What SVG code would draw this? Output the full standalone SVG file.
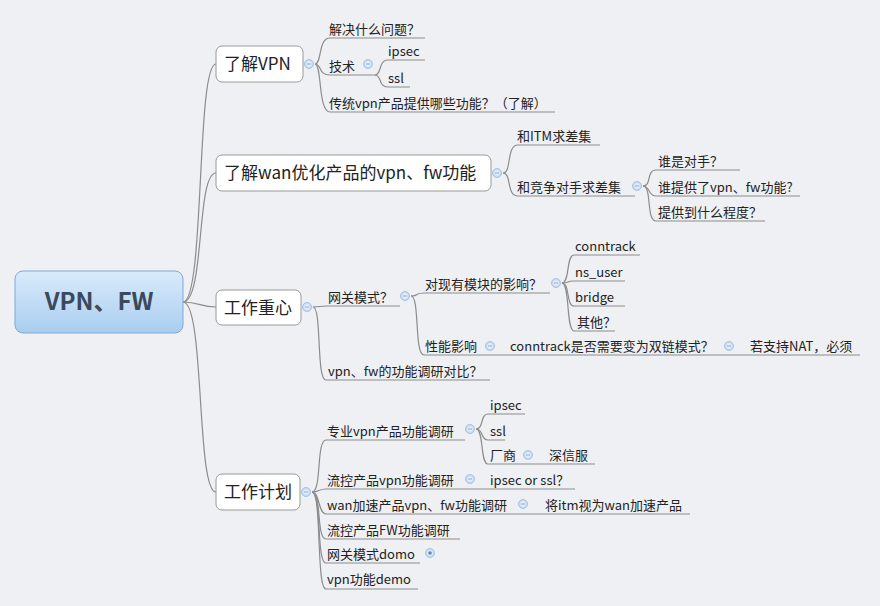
<svg xmlns="http://www.w3.org/2000/svg" width="880" height="606" viewBox="0 0 880 606">
<defs>
<linearGradient id="rg" x1="0" y1="0" x2="0" y2="1"><stop offset="0" stop-color="#d9ebfb"/><stop offset="1" stop-color="#a9cdf0"/></linearGradient>
<radialGradient id="ig"><stop offset="0" stop-color="#ffffff"/><stop offset="1" stop-color="#b9d3ee"/></radialGradient>
</defs>
<style>
text{font-family:"Noto Sans CJK SC","Liberation Sans",sans-serif;fill:#222}
.t{font-size:13px}
.m{font-size:17px}
.box{fill:#fff;stroke:#9a9a9a;stroke-width:1}
.c path{fill:none;stroke:#8c8c8c;stroke-width:1.2}
.ic circle{fill:url(#ig);stroke:#a8c4e2;stroke-width:1}
.ic line{stroke:#7fa6d4;stroke-width:1}
</style>
<rect width="880" height="606" fill="#eef0f4"/>
<g class="c">
<path d="M183,302 C205,302 196,64 216,64"/>
<path d="M183,302 C205,302 196,173 216,173"/>
<path d="M183,302 C200,302 200,307 216,307"/>
<path d="M183,302 C205,302 196,492 216,492"/>
<!-- VPN -->
<path d="M315,64 C322,64 318,38 330,38 H425"/>
<path d="M315,64 C322,64 318,75 330,75 H375"/>
<path d="M315,64 C322,64 318,112 330,112 H555"/>
<path d="M375,75 C382,75 378,60 388,60 H425"/>
<path d="M375,75 C382,75 378,87 388,87 H410"/>
<!-- wan -->
<path d="M503,173 C512,173 506,145 518,145 H600"/>
<path d="M503,173 C512,173 506,196 518,196 H635"/>
<path d="M643,186 C652,186 646,170 656,170 H740"/>
<path d="M643,186 C650,186 648,196 656,196 H800"/>
<path d="M643,186 C652,186 646,221 656,221 H765"/>
<!-- 工作重心 -->
<path d="M313,307 C322,307 318,306 328,306 H400"/>
<path d="M313,307 C322,307 316,380 326,380 H490"/>
<path d="M411,296 C420,296 414,293 424,293 H550"/>
<path d="M411,296 C420,296 414,355 424,355 H860"/>
<path d="M562,283 C570,283 566,255 574,255 H640"/>
<path d="M562,283 C570,283 566,281 574,281 H625"/>
<path d="M562,283 C570,283 566,306 574,306 H625"/>
<path d="M562,283 C570,283 566,331 574,331 H615"/>
<!-- 工作计划 -->
<path d="M312,492 C322,492 316,440 326,440 H465"/>
<path d="M312,492 C320,492 318,489 326,489 H575"/>
<path d="M312,492 C320,492 318,514 326,514 H690"/>
<path d="M312,492 C322,492 316,539 326,539 H460"/>
<path d="M312,492 C322,492 316,563 326,563 H420"/>
<path d="M312,492 C322,492 316,589 326,589 H418"/>
<path d="M476,429 C484,429 480,414 488,414 H525"/>
<path d="M476,429 C484,429 480,440 488,440 H505"/>
<path d="M476,429 C484,429 480,464 488,464 H595"/>
</g>
<g id="root"><rect x="15" y="271" width="168" height="62" rx="8" fill="url(#rg)" stroke="#7fa9d6"/><text x="99" y="310" text-anchor="middle" style="font-size:24px;font-weight:bold;fill:#3a4a5c">VPN、FW</text></g>
<g id="n1"><rect class="box" x="216" y="46" width="87" height="36" rx="6"/><text class="m" x="224" y="70">了解VPN</text></g>
<g id="n2"><rect class="box" x="216" y="155" width="275" height="36" rx="6"/><text class="m" x="224" y="179">了解wan优化产品的vpn、fw功能</text></g>
<g id="n3"><rect class="box" x="216" y="290" width="85" height="35" rx="6"/><text class="m" x="224" y="314">工作重心</text></g>
<g id="n4"><rect class="box" x="216" y="474" width="84" height="36" rx="6"/><text class="m" x="224" y="498">工作计划</text></g>
<g class="t">
<text x="329" y="34">解决什么问题？</text>
<text x="329" y="71">技术</text>
<text x="388" y="56">ipsec</text>
<text x="388" y="83">ssl</text>
<text x="329" y="108">传统vpn产品提供哪些功能？（了解）</text>
<text x="517" y="141">和ITM求差集</text>
<text x="517" y="192">和竞争对手求差集</text>
<text x="658" y="166">谁是对手？</text>
<text x="658" y="192">谁提供了vpn、fw功能?</text>
<text x="658" y="217">提供到什么程度？</text>
<text x="328" y="302">网关模式？</text>
<text x="425" y="289">对现有模块的影响？</text>
<text x="575" y="251">conntrack</text>
<text x="575" y="277">ns_user</text>
<text x="575" y="302">bridge</text>
<text x="577" y="327">其他？</text>
<text x="425" y="351">性能影响</text>
<text x="510" y="351">conntrack是否需要变为双链模式？</text>
<text x="750" y="351">若支持NAT，必须</text>
<text x="328" y="376">vpn、fw的功能调研对比？</text>
<text x="327" y="436">专业vpn产品功能调研</text>
<text x="490" y="410">ipsec</text>
<text x="490" y="436">ssl</text>
<text x="490" y="460">厂商</text>
<text x="549" y="460">深信服</text>
<text x="327" y="485">流控产品vpn功能调研</text>
<text x="490" y="485">ipsec or ssl？</text>
<text x="327" y="510">wan加速产品vpn、fw功能调研</text>
<text x="545" y="510">将itm视为wan加速产品</text>
<text x="327" y="535">流控产品FW功能调研</text>
<text x="327" y="559">网关模式domo</text>
<text x="327" y="584">vpn功能demo</text>
</g>
<g class="ic">
<circle cx="309" cy="64" r="4.5"/><line x1="307" y1="64" x2="311" y2="64"/>
<circle cx="368" cy="64" r="4.5"/><line x1="366" y1="64" x2="370" y2="64"/>
<circle cx="497" cy="173" r="4.5"/><line x1="495" y1="173" x2="499" y2="173"/>
<circle cx="637" cy="186" r="4.5"/><line x1="635" y1="186" x2="639" y2="186"/>
<circle cx="307" cy="307" r="4.5"/><line x1="305" y1="307" x2="309" y2="307"/>
<circle cx="405" cy="296" r="4.5"/><line x1="403" y1="296" x2="407" y2="296"/>
<circle cx="556" cy="283" r="4.5"/><line x1="554" y1="283" x2="558" y2="283"/>
<circle cx="490" cy="346" r="4.5"/><line x1="488" y1="346" x2="492" y2="346"/>
<circle cx="729" cy="346" r="4.5"/><line x1="727" y1="346" x2="731" y2="346"/>
<circle cx="306" cy="492" r="4.5"/><line x1="304" y1="492" x2="308" y2="492"/>
<circle cx="470" cy="429" r="4.5"/><line x1="468" y1="429" x2="472" y2="429"/>
<circle cx="528" cy="455" r="4.5"/><line x1="526" y1="455" x2="530" y2="455"/>
<circle cx="470" cy="479" r="4.5"/><line x1="468" y1="479" x2="472" y2="479"/>
<circle cx="523" cy="504" r="4.5"/><line x1="521" y1="504" x2="525" y2="504"/>
<circle cx="430" cy="553" r="4.5"/><circle cx="430" cy="553" r="1.8" style="fill:#5a87c0;stroke:none"/>
</g>
</svg>
